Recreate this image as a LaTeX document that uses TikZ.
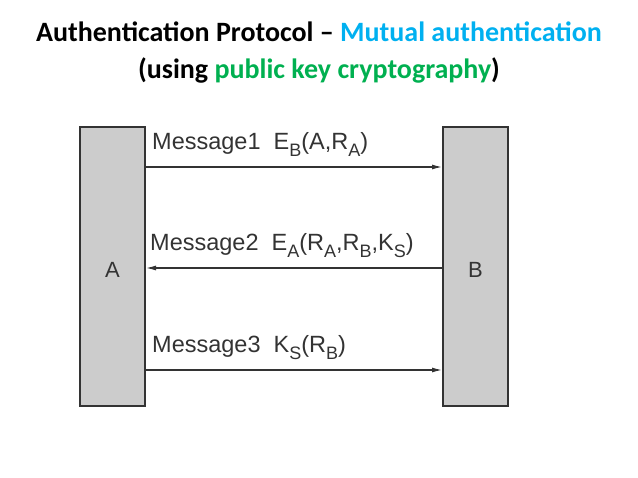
\documentclass[tikz,border=0pt]{standalone}
\usepackage{fontspec}
\setmainfont{Liberation Sans}
\newfontfamily\titlefont{Carlito}
\usetikzlibrary{arrows.meta}
\definecolor{cyanT}{HTML}{00B0F0}
\definecolor{greenT}{HTML}{00B050}
\definecolor{lineG}{HTML}{333333}
\newcommand{\lowsub}[1]{\raisebox{-0.55ex}{\fontsize{18}{18}\selectfont #1}}
\begin{document}
\begin{tikzpicture}[x=1pt,y=-1pt,
  party/.style={draw=lineG,line width=2pt,fill=gray!40},
  msg/.style={-{Latex[length=10pt,width=5pt]},line width=1.2pt,draw=lineG},
  lbl/.style={anchor=south west,inner sep=0pt,text=lineG,font=\fontsize{23.5}{24}\selectfont},
  title/.style={font=\titlefont\bfseries\fontsize{28}{32}\selectfont}]
\useasboundingbox (0,0) rectangle (638,478);
\node[title] (t1) at (319,32) {Authentication Protocol \textendash\ \textcolor{cyanT}{Mutual authentication}};
\node[title] (t2) at (319,70) {(using \textcolor{greenT}{public key cryptography})};
\draw[party] (80,127) rectangle (145,406);
\draw[party] (443,127) rectangle (508,406);
\node[text=lineG,font=\fontsize{22}{22}\selectfont] (A) at (112.5,270) {A};
\node[text=lineG,font=\fontsize{22}{22}\selectfont] (B) at (475.5,270) {B};
\coordinate (a1) at (146,167); \coordinate (b1) at (442,167);
\coordinate (a2) at (146,268); \coordinate (b2) at (442,268);
\coordinate (a3) at (146,370); \coordinate (b3) at (442,370);
\draw[msg] (a1) -- (b1);
\draw[msg] (b2) -- (a2);
\draw[msg] (a3) -- (b3);
\node[lbl] (m1) at (152,157) {Message1\ \ E\lowsub{B}(A,R\lowsub{A})};
\node[lbl] (m2) at (150,258) {Message2\ \ E\lowsub{A}(R\lowsub{A},R\lowsub{B},K\lowsub{S})};
\node[lbl] (m3) at (152,360) {Message3\ \ K\lowsub{S}(R\lowsub{B})};
\end{tikzpicture}
\end{document}
